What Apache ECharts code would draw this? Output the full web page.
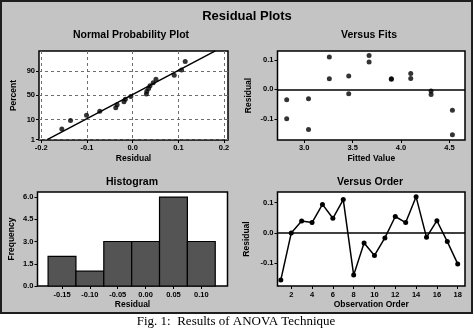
<!DOCTYPE html>
<html>
<head>
<meta charset="utf-8">
<script src="https://cdn.jsdelivr.net/npm/echarts@6/dist/echarts.min.js"></script>
<style>
html,body{margin:0;padding:0;background:#fff;}
#c{width:474px;height:332px;}
</style>
</head>
<body>
<div id="c"></div>
<script>
// ---- Data ----
// Normal probability plot (sorted residuals vs. percent)
var npResidual = [-0.155, -0.136, -0.101, -0.072, -0.037, -0.034, -0.019, -0.016, -0.004, 0.030, 0.031, 0.035, 0.038, 0.045, 0.051, 0.091, 0.107, 0.115];
var npPercent = [3.8, 9.2, 14.7, 20.1, 25.5, 31.0, 36.4, 41.8, 47.3, 52.7, 58.2, 63.6, 69.0, 74.5, 79.9, 85.3, 90.8, 96.2];
var npLineResidual = [-0.187, 0.181];
var npLinePercent = [1, 99];
var npPercentTicks = [1, 10, 50, 90, 99];
var npResidualTicks = [-0.2, -0.1, 0.0, 0.1, 0.2];
var npGridResidual = [-0.15, -0.1, -0.05, 0.0, 0.05, 0.1, 0.15];
var npGridPercent = [10, 50, 90];

// Versus fits
var fittedValues = [2.82, 2.82, 3.045, 3.045, 3.26, 3.26, 3.46, 3.46, 3.67, 3.67, 3.90, 3.90, 4.10, 4.10, 4.31, 4.31, 4.53, 4.53];
var fitResiduals = [-0.035, -0.100, -0.032, -0.136, 0.110, 0.036, 0.045, -0.015, 0.115, 0.093, 0.034, 0.036, 0.054, 0.037, -0.006, -0.018, -0.071, -0.154];
var fitTicks = [3.0, 3.5, 4.0, 4.5];
var residTicks = [-0.1, 0.0, 0.1];

// Histogram
var histCenters = [-0.15, -0.10, -0.05, 0.00, 0.05, 0.10];
var histFreq = [2, 1, 3, 3, 6, 3];
var histBinWidth = 0.05;
var freqTicks = [0.0, 1.5, 3.0, 4.5, 6.0];

// Versus order
var obsOrder = [1,2,3,4,5,6,7,8,9,10,11,12,13,14,15,16,17,18];
var orderResiduals = [-0.156, -0.001, 0.039, 0.034, 0.094, 0.048, 0.110, -0.140, -0.034, -0.075, -0.017, 0.054, 0.034, 0.119, -0.015, 0.040, -0.029, -0.103];
var orderTicks = [2,4,6,8,10,12,14,16,18];

// ---- Normal probability scale (inverse normal CDF, Acklam) ----
function normInv(p){
  var a=[-3.969683028665376e+01,2.209460984245205e+02,-2.759285104469687e+02,1.383577518672690e+02,-3.066479806614716e+01,2.506628277459239e+00];
  var b=[-5.447609879822406e+01,1.615858368580409e+02,-1.556989798598866e+02,6.680131188771972e+01,-1.328068155288572e+01];
  var c=[-7.784894002430293e-03,-3.223964580411365e-01,-2.400758277161838e+00,-2.549732539343734e+00,4.374664141464968e+00,2.938163982698783e+00];
  var d=[7.784695709041462e-03,3.224671290700398e-01,2.445134137142996e+00,3.754408661907416e+00];
  var pl=0.02425, q, r;
  if(p<pl){q=Math.sqrt(-2*Math.log(p));return (((((c[0]*q+c[1])*q+c[2])*q+c[3])*q+c[4])*q+c[5])/((((d[0]*q+d[1])*q+d[2])*q+d[3])*q+1);}
  if(p>1-pl){q=Math.sqrt(-2*Math.log(1-p));return -(((((c[0]*q+c[1])*q+c[2])*q+c[3])*q+c[4])*q+c[5])/((((d[0]*q+d[1])*q+d[2])*q+d[3])*q+1);}
  q=p-0.5;r=q*q;
  return (((((a[0]*r+a[1])*r+a[2])*r+a[3])*r+a[4])*r+a[5])*q/(((((b[0]*r+b[1])*r+b[2])*r+b[3])*r+b[4])*r+1);
}
function pz(pct){ return normInv(pct/100); }

var FONT = '"Liberation Sans", Arial, sans-serif';
var tickLabel = {fontFamily: FONT, fontWeight: 'bold', fontSize: 7.5, color: '#000'};
var nameStyle = {fontFamily: FONT, fontWeight: 'bold', fontSize: 8.5, color: '#000'};

function axisCommon(extra){
  var o = {
    type: 'value',
    axisLine: {show: false, onZero: false},
    axisTick: {show: true, inside: false, length: 3, lineStyle: {color: '#000', width: 1}},
    splitLine: {show: false},
    nameTextStyle: nameStyle,
    nameLocation: 'middle'
  };
  for (var k in extra) o[k] = extra[k];
  return o;
}
function lbl(vals, fmt, margin){
  return Object.assign({show: true, customValues: vals, margin: margin, formatter: fmt}, tickLabel);
}

var gridBase = {show: true, backgroundColor: '#fff', borderColor: '#000', borderWidth: 1.5, containLabel: false, outerBoundsMode: 'none'};

var chart = echarts.init(document.getElementById('c'), null, {renderer: 'canvas'});

var npData = npResidual.map(function(r,i){ return [r, pz(npPercent[i])]; });
var npLine = npLineResidual.map(function(r,i){ return [r, pz(npLinePercent[i])]; });
var fitData = fittedValues.map(function(f,i){ return [f, fitResiduals[i]]; });
var histData = histCenters.map(function(c,i){ return [c, histFreq[i]]; });
var orderData = obsOrder.map(function(o,i){ return [o, orderResiduals[i]]; });

var option = {
  backgroundColor: '#fff',
  animation: false,
  graphic: [
    {type: 'rect', z: -10, zlevel: 0, shape: {x: 1, y: 1, width: 471, height: 312}, style: {fill: '#c4c4c4', stroke: '#1e1e1e', lineWidth: 2}},
    {type: 'text', x: 247, y: 16, style: {text: 'Residual Plots', fontFamily: FONT, fontWeight: 'bold', fontSize: 13, fill: '#000', align: 'center', verticalAlign: 'middle'}},
    {type: 'text', x: 131, y: 35, style: {text: 'Normal Probability Plot', fontFamily: FONT, fontWeight: 'bold', fontSize: 10.5, fill: '#000', align: 'center', verticalAlign: 'middle'}},
    {type: 'text', x: 369, y: 35, style: {text: 'Versus Fits', fontFamily: FONT, fontWeight: 'bold', fontSize: 10.5, fill: '#000', align: 'center', verticalAlign: 'middle'}},
    {type: 'text', x: 132, y: 182, style: {text: 'Histogram', fontFamily: FONT, fontWeight: 'bold', fontSize: 10.5, fill: '#000', align: 'center', verticalAlign: 'middle'}},
    {type: 'text', x: 370, y: 182, style: {text: 'Versus Order', fontFamily: FONT, fontWeight: 'bold', fontSize: 10.5, fill: '#000', align: 'center', verticalAlign: 'middle'}},
    {type: 'text', x: 236, y: 322, style: {text: 'Fig. 1:  Results of ANOVA Technique', fontFamily: '"Liberation Serif", "Times New Roman", serif', fontSize: 13, fill: '#000', align: 'center', verticalAlign: 'middle'}}
  ],
  grid: [
    Object.assign({left: 39, top: 51, width: 189, height: 89}, gridBase),
    Object.assign({left: 277.5, top: 51, width: 187.5, height: 89}, gridBase),
    Object.assign({left: 37.5, top: 192, width: 190, height: 94}, gridBase),
    Object.assign({left: 277.5, top: 192, width: 187.5, height: 94}, gridBase)
  ],
  xAxis: [
    axisCommon({gridIndex: 0, min: -0.205, max: 0.2087, name: 'Residual', nameGap: 14,
      axisTick: {show: true, customValues: npResidualTicks, length: 3, lineStyle: {color: '#000'}},
      axisLabel: lbl(npResidualTicks, function(v){ return v.toFixed(1); }, 4),
      splitLine: {show: true, customValues: npGridResidual, lineStyle: {color: '#6e6e6e', type: [3, 3], width: 1}}}),
    axisCommon({gridIndex: 1, min: 2.725, max: 4.66, name: 'Fitted Value', nameGap: 14,
      axisTick: {show: true, customValues: fitTicks, length: 3, lineStyle: {color: '#000'}},
      axisLabel: lbl(fitTicks, function(v){ return v.toFixed(1); }, 4)}),
    axisCommon({gridIndex: 2, min: -0.194, max: 0.147, name: 'Residual', nameGap: 14,
      axisTick: {show: true, customValues: histCenters, length: 3, lineStyle: {color: '#000'}},
      axisLabel: lbl(histCenters, function(v){ return v.toFixed(2); }, 5)}),
    axisCommon({gridIndex: 3, min: 0.68, max: 18.7, name: 'Observation Order', nameGap: 14,
      axisTick: {show: true, customValues: orderTicks, length: 3, lineStyle: {color: '#000'}},
      axisLabel: lbl(orderTicks, function(v){ return String(Math.round(v)); }, 5)})
  ],
  yAxis: [
    axisCommon({gridIndex: 0, min: -2.35, max: 2.32, name: 'Percent', nameGap: 21,
      axisTick: {show: true, customValues: npPercentTicks.map(pz), length: 3, lineStyle: {color: '#000'}},
      axisLabel: lbl(npPercentTicks.map(pz), function(v){
        var best = npPercentTicks[0];
        npPercentTicks.forEach(function(p){ if (Math.abs(pz(p)-v) < Math.abs(pz(best)-v)) best = p; });
        return String(best);
      }, 4),
      splitLine: {show: true, customValues: npGridPercent.map(pz), lineStyle: {color: '#6e6e6e', type: [3, 3], width: 1}}}),
    axisCommon({gridIndex: 1, min: -0.172, max: 0.13, name: 'Residual', nameGap: 24,
      axisTick: {show: true, customValues: residTicks, length: 3, lineStyle: {color: '#000'}},
      axisLabel: lbl(residTicks, function(v){ return v.toFixed(1); }, 4)}),
    axisCommon({gridIndex: 2, min: 0, max: 6.34, name: 'Frequency', nameGap: 21,
      axisTick: {show: true, customValues: freqTicks, length: 3, lineStyle: {color: '#000'}},
      axisLabel: lbl(freqTicks, function(v){ return v.toFixed(1); }, 4)}),
    axisCommon({gridIndex: 3, min: -0.176, max: 0.135, name: 'Residual', nameGap: 26,
      axisTick: {show: true, customValues: residTicks, length: 3, lineStyle: {color: '#000'}},
      axisLabel: lbl(residTicks, function(v){ return v.toFixed(1); }, 4)})
  ],
  series: [
    {type: 'line', xAxisIndex: 0, yAxisIndex: 0, data: npLine, showSymbol: false, symbol: 'none',
      lineStyle: {color: '#000', width: 1.5}, silent: true, z: 3},
    {type: 'scatter', xAxisIndex: 0, yAxisIndex: 0, data: npData, symbol: 'circle', symbolSize: 5,
      itemStyle: {color: '#000'}, z: 4},
    {type: 'scatter', xAxisIndex: 1, yAxisIndex: 1, data: fitData, symbol: 'circle', symbolSize: 5,
      itemStyle: {color: '#000'}, z: 4,
      markLine: {silent: true, symbol: 'none', label: {show: false}, lineStyle: {color: '#000', width: 1.5, type: 'solid'}, data: [{yAxis: 0}]}},
    {type: 'custom', xAxisIndex: 2, yAxisIndex: 2, data: histData,
      renderItem: function(params, api){
        var c = api.value(0), f = api.value(1);
        var p0 = api.coord([c - histBinWidth/2, f]);
        var p1 = api.coord([c + histBinWidth/2, 0]);
        return {type: 'rect', shape: {x: p0[0], y: p0[1], width: p1[0]-p0[0], height: p1[1]-p0[1]},
          style: {fill: '#545454', stroke: '#000', lineWidth: 1.2}};
      }, z: 3},
    {type: 'line', xAxisIndex: 3, yAxisIndex: 3, data: orderData, symbol: 'circle', symbolSize: 5, showSymbol: true,
      lineStyle: {color: '#000', width: 1.5}, itemStyle: {color: '#000'}, z: 4,
      markLine: {silent: true, symbol: 'none', label: {show: false}, lineStyle: {color: '#000', width: 1.5, type: 'solid'}, data: [{yAxis: 0}]}}
  ]
};
chart.setOption(option);
</script>
</body>
</html>
